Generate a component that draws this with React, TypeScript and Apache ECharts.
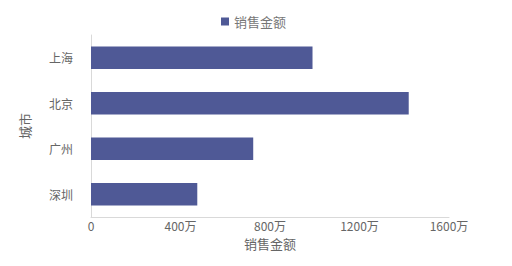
import React, { useEffect, useRef } from "react";
import * as echarts from "echarts";

const cities = ["上海", "北京", "广州", "深圳"];
const sales = [990, 1420, 725, 475];
const seriesName = "销售金额";
const xAxisName = "销售金额";
const yAxisName = "城市";

export default function App() {
  const ref = useRef<HTMLDivElement>(null);
  useEffect(() => {
    document.body.style.margin = "0";
    if (!ref.current) return;
    const chart = echarts.init(ref.current, undefined, { renderer: "svg" });
    const font = "'Noto Sans CJK SC', 'Noto Sans', sans-serif";
    chart.setOption({
      animation: false,
      textStyle: { fontFamily: font },
      legend: {
        top: 10,
        left: 216,
        itemWidth: 8,
        itemHeight: 8,
        icon: "rect",
        itemGap: 6,
        textStyle: { fontSize: 13, color: "#777", fontFamily: font },
        data: [seriesName],
      },
      grid: { left: 91, right: 63, top: 35, bottom: 49, containLabel: false },
      xAxis: {
        type: "value",
        min: 0,
        max: 1600,
        interval: 400,
        name: xAxisName,
        nameLocation: "middle",
        nameGap: 20,
        nameTextStyle: { fontSize: 13, color: "#666", fontFamily: font },
        axisLine: { show: true, lineStyle: { color: "#d9d9d9" } },
        axisTick: { show: false },
        splitLine: { show: false },
        axisLabel: {
          margin: 2,
          fontSize: 12,
          color: "#666",
          fontFamily: font,
          formatter: (v: number) => (v === 0 ? "0" : v + "万"),
        },
      },
      yAxis: {
        type: "category",
        data: cities,
        inverse: true,
        name: yAxisName,
        nameLocation: "middle",
        nameGap: 60,
        nameRotate: 90,
        nameTextStyle: { fontSize: 13, color: "#666", fontFamily: font },
        axisLine: { show: true, lineStyle: { color: "#d9d9d9" } },
        axisTick: { show: false },
        axisLabel: { margin: 18, fontSize: 12, color: "#666", fontFamily: font },
      },
      series: [
        {
          name: seriesName,
          type: "bar",
          data: sales,
          barWidth: "49%",
          itemStyle: { color: "#4f5996" },
        },
      ],
    });
    return () => chart.dispose();
  }, []);
  return <div ref={ref} style={{ width: 512, height: 266 }} />;
}
